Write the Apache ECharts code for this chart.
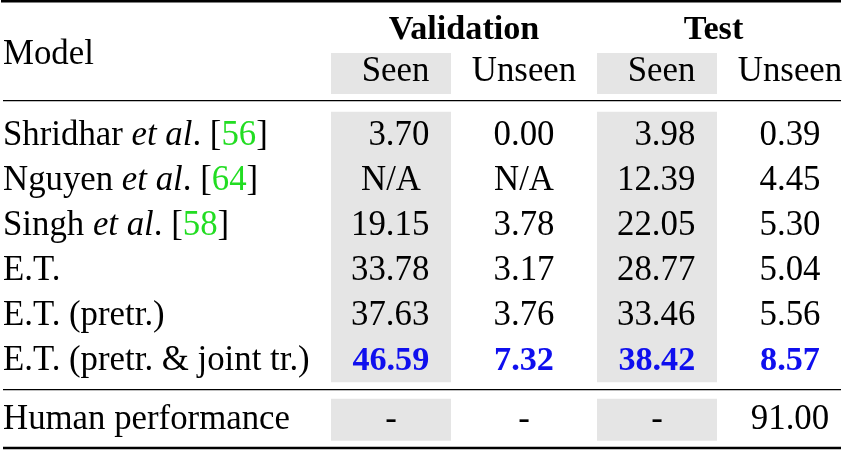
<!DOCTYPE html>
<html><head><meta charset="utf-8">
<script src="https://cdn.jsdelivr.net/npm/echarts@6/dist/echarts.min.js"></script>
<style>html,body{margin:0;padding:0;background:#fff}#c{width:846px;height:453px}</style>
</head><body><div id="c"></div>
<script>
// ---- data ----
const groups = ['Validation', 'Test'];
const columns = ['Seen', 'Unseen', 'Seen', 'Unseen'];
const modelNames = ['Shridhar', 'Nguyen', 'Singh', 'E.T.', 'E.T. (pretr.)', 'E.T. (pretr. & joint tr.)'];
const modelEtAl = [true, true, true, false, false, false];
const modelRefs = ['56', '64', '58', '', '', ''];
const valSeen = [3.70, null, 19.15, 33.78, 37.63, 46.59];
const valUnseen = [0.00, null, 3.78, 3.17, 3.76, 7.32];
const testSeen = [3.98, 12.39, 22.05, 28.77, 33.46, 38.42];
const testUnseen = [0.39, 4.45, 5.30, 5.04, 5.56, 8.57];
const bestRow = 5;
const humanLabel = ['Human performance'];
const humanValues = [null, null, null, 91.00];

// ---- layout / style ----
const FONT = "'Liberation Serif','Times New Roman',serif";
const FS = 34.8;
const FSB = 34.2;
const GRAY = '#e5e5e5';
const BLUE = '#0f0fee';
const GREEN = '#22dd22';
const GRID_LEFT = 324.5, GRID_W = 532;
const GROUP_POS = [0.549, 2.425];
const SEEN_HALF = 38.3;
const SHADE_W = 120;

const seenCol = c => c % 2 === 0;

function cellText(v, missing) { return v == null ? missing : v.toFixed(2); }

const bodyCols = [valSeen, valUnseen, testSeen, testUnseen];
const bodyCells = [];
modelNames.forEach((m, r) => {
  bodyCols.forEach((arr, c) => {
    const v = arr[r];
    bodyCells.push({value: [c, r], text: cellText(v, 'N/A'), isNum: v != null, bold: r === bestRow});
  });
});
const humanCells = humanValues.map((v, c) => ({value: [c, 0], text: cellText(v, '-'), isNum: v != null, bold: false}));
const headCells = columns.map((t, c) => ({value: [c, 1], text: t, kind: 'sub'}))
  .concat(groups.map((g, i) => ({value: [Math.floor(GROUP_POS[i]), 0], text: g, kind: 'group', pos: GROUP_POS[i]})));

function cellRenderer(cells, textDy, shadeTop, shadeH) {
  return function (params, api) {
    const cell = cells[params.dataIndex];
    const c = api.value(0), r = api.value(1);
    const p = api.coord([c, r]);
    const sz = api.size([1, 1]);
    const children = [];
    if (cell.kind === 'group') {
      const p1 = api.coord([c + 1, r]);
      const x = p[0] + (cell.pos - c) * (p1[0] - p[0]);
      children.push({type: 'text', style: {text: cell.text, x: x, y: p[1] + textDy - 0.5, align: 'center', verticalAlign: 'middle',
        font: 'bold ' + FSB + 'px ' + FONT, fill: '#000'}});
      return {type: 'group', children};
    }
    if (seenCol(c)) {
      const top = shadeTop == null ? p[1] - sz[1] / 2 - 0.3 : p[1] + shadeTop;
      const h = shadeH == null ? sz[1] + 0.6 : shadeH;
      children.push({type: 'rect', shape: {x: p[0] - SHADE_W / 2, y: top, width: SHADE_W, height: h}, style: {fill: GRAY}});
    }
    const rightAlign = seenCol(c) && (cell.isNum || cell.kind === 'sub');
    children.push({type: 'text', style: {
      text: cell.text, x: rightAlign ? p[0] + SEEN_HALF : p[0], y: p[1] + textDy,
      align: rightAlign ? 'right' : 'center', verticalAlign: 'middle',
      font: (cell.bold ? 'bold ' + FSB : FS) + 'px ' + FONT, fill: cell.bold ? BLUE : '#000'}});
    return {type: 'group', children};
  };
}

const hidden = {axisLine: {show: false}, axisTick: {show: false}, splitLine: {show: false}};
const labelStyle = {align: 'left', margin: GRID_LEFT - 3, fontFamily: FONT, fontSize: FS, color: '#000',
  interval: 0, hideOverlap: false, padding: [3, 0, 0, 0],
  rich: {i: {fontStyle: 'italic', fontFamily: FONT, fontSize: FS, color: '#000'},
         g: {fontFamily: FONT, fontSize: FS, color: GREEN}}};
const gridBase = {left: GRID_LEFT, width: GRID_W, containLabel: false, outerBoundsMode: 'none'};

const chart = echarts.init(document.getElementById('c'), null, {renderer: 'canvas'});
chart.setOption({
  animation: false,
  backgroundColor: '#fff',
  title: {text: 'Model', left: 3, top: 37, padding: 0,
    textStyle: {fontFamily: FONT, fontSize: FS, fontWeight: 'normal', color: '#000'}},
  grid: [
    Object.assign({top: 8, height: 82}, gridBase),
    Object.assign({top: 112, height: 270}, gridBase),
    Object.assign({top: 399, height: 41.5}, gridBase)
  ],
  xAxis: [0, 1, 2].map(i => Object.assign({type: 'category', gridIndex: i, data: columns, axisLabel: {show: false}}, hidden)),
  yAxis: [
    Object.assign({type: 'category', gridIndex: 0, inverse: true, data: ['group', 'sub'], axisLabel: {show: false}}, hidden),
    Object.assign({type: 'category', gridIndex: 1, inverse: true, data: modelNames,
      axisLabel: Object.assign({}, labelStyle, {formatter: (v, i) =>
        modelNames[i] + (modelEtAl[i] ? ' {i|et al}.' : '') + (modelRefs[i] ? ' [{g|' + modelRefs[i] + '}]' : '')})}, hidden),
    Object.assign({type: 'category', gridIndex: 2, inverse: true, data: humanLabel,
      axisLabel: Object.assign({}, labelStyle, {padding: [0, 0, 0, 0]})}, hidden)
  ],
  series: [
    {type: 'custom', xAxisIndex: 0, yAxisIndex: 0, data: headCells, renderItem: cellRenderer(headCells, 2.5, -16.5, 41)},
    {type: 'custom', xAxisIndex: 1, yAxisIndex: 1, data: bodyCells, renderItem: cellRenderer(bodyCells, 1.5)},
    {type: 'custom', xAxisIndex: 2, yAxisIndex: 2, data: humanCells, renderItem: cellRenderer(humanCells, 0)}
  ],
  graphic: [
    {type: 'line', shape: {x1: 1, y1: 1.3, x2: 841, y2: 1.3}, style: {stroke: '#000', lineWidth: 2.6}},
    {type: 'line', shape: {x1: 3, y1: 100.7, x2: 841, y2: 100.7}, style: {stroke: '#000', lineWidth: 1.3}},
    {type: 'line', shape: {x1: 3, y1: 389.7, x2: 841, y2: 389.7}, style: {stroke: '#000', lineWidth: 1.3}},
    {type: 'line', shape: {x1: 3, y1: 448, x2: 841, y2: 448}, style: {stroke: '#000', lineWidth: 2.6}}
  ]
});
</script>
</body></html>
